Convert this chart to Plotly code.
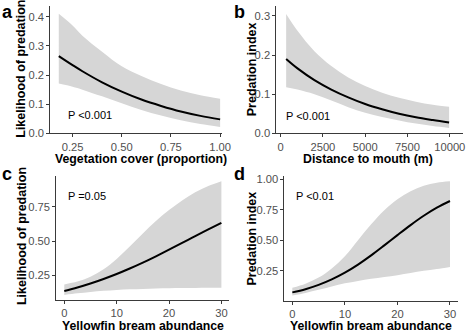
import plotly.graph_objects as go

W, H = 474, 333

# ---- Data ----
veg_x = [0.18, 0.25, 0.30, 0.40, 0.50, 0.60, 0.70, 0.80, 0.90, 1.00]
veg_fit = [0.265, 0.234, 0.213, 0.175, 0.143, 0.116, 0.094, 0.075, 0.060, 0.048]
veg_hi = [0.410, 0.370, 0.335, 0.280, 0.230, 0.197, 0.169, 0.147, 0.131, 0.119]
veg_lo = [0.171, 0.160, 0.150, 0.127, 0.103, 0.080, 0.061, 0.045, 0.032, 0.022]

dist_x = [330, 1000, 2000, 3000, 4000, 5000, 6000, 7000, 8000, 9000, 9960]
dist_fit = [0.190, 0.166, 0.136, 0.112, 0.092, 0.075, 0.0615, 0.050, 0.041, 0.034, 0.028]
dist_hi = [0.305, 0.262, 0.210, 0.172, 0.143, 0.121, 0.104, 0.091, 0.081, 0.073, 0.068]
dist_lo = [0.118, 0.112, 0.100, 0.084, 0.067, 0.053, 0.042, 0.033, 0.025, 0.019, 0.014]

bream_x = [0, 2.5, 5, 7.5, 10, 12.5, 15, 17.5, 20, 22.5, 25, 27.5, 30]
c_fit = [0.137, 0.162, 0.191, 0.224, 0.260, 0.300, 0.343, 0.389, 0.437, 0.486, 0.536, 0.584, 0.632]
c_hi = [0.184, 0.205, 0.240, 0.295, 0.370, 0.460, 0.555, 0.645, 0.725, 0.795, 0.855, 0.900, 0.935]
c_lo = [0.108, 0.120, 0.130, 0.138, 0.144, 0.149, 0.152, 0.155, 0.157, 0.158, 0.159, 0.160, 0.160]

d_fit = [0.074, 0.100, 0.135, 0.180, 0.235, 0.301, 0.376, 0.458, 0.542, 0.624, 0.700, 0.766, 0.821]
d_hi = [0.112, 0.145, 0.195, 0.270, 0.370, 0.500, 0.630, 0.745, 0.835, 0.900, 0.945, 0.970, 0.982]
d_lo = [0.048, 0.070, 0.095, 0.122, 0.148, 0.168, 0.185, 0.200, 0.215, 0.232, 0.250, 0.265, 0.282]

a_xticks = [0.25, 0.50, 0.75, 1.00]
a_xlabels = ["0.25", "0.50", "0.75", "1.00"]
a_yticks = [0.0, 0.1, 0.2, 0.3, 0.4]
a_ylabels = ["0.0", "0.1", "0.2", "0.3", "0.4"]
b_xticks = [0, 2500, 5000, 7500, 10000]
b_xlabels = ["0", "2500", "5000", "7500", "10000"]
b_yticks = [0.0, 0.1, 0.2, 0.3]
b_ylabels = ["0.0", "0.1", "0.2", "0.3"]
cd_xticks = [0, 10, 20, 30]
cd_xlabels = ["0", "10", "20", "30"]
c_yticks = [0.25, 0.50, 0.75]
c_ylabels = ["0.25", "0.50", "0.75"]
d_yticks = [0.25, 0.50, 0.75, 1.00]
d_ylabels = ["0.25", "0.50", "0.75", "1.00"]

panels = [
    dict(x=veg_x, fit=veg_fit, hi=veg_hi, lo=veg_lo, ax="", p="P <0.001", letter="a",
         xtitle="Vegetation cover (proportion)", ytitle="Likelihood of predation"),
    dict(x=dist_x, fit=dist_fit, hi=dist_hi, lo=dist_lo, ax="2", p="P <0.001", letter="b",
         xtitle="Distance to mouth (m)", ytitle="Predation index"),
    dict(x=bream_x, fit=c_fit, hi=c_hi, lo=c_lo, ax="3", p="P =0.05", letter="c",
         xtitle="Yellowfin bream abundance", ytitle="Likelihood of predation"),
    dict(x=bream_x, fit=d_fit, hi=d_hi, lo=d_lo, ax="4", p="P <0.01", letter="d",
         xtitle="Yellowfin bream abundance", ytitle="Predation index"),
]

def px(x):
    return x / W

def py(y):
    return 1 - y / H

RIBBON = "#d6d6d6"
AXC = "#3a3a3a"
TICKC = "#505050"
FONT = "Liberation Sans, Arial, sans-serif"

fig = go.Figure()
for p in panels:
    xa = "x" + p["ax"]
    ya = "y" + p["ax"]
    fig.add_trace(go.Scatter(x=p["x"], y=p["lo"], mode="lines", line=dict(width=0, shape="spline"),
                             xaxis=xa, yaxis=ya, showlegend=False, hoverinfo="skip"))
    fig.add_trace(go.Scatter(x=p["x"], y=p["hi"], mode="lines", line=dict(width=0, shape="spline"),
                             fill="tonexty", fillcolor=RIBBON,
                             xaxis=xa, yaxis=ya, showlegend=False, hoverinfo="skip"))
    fig.add_trace(go.Scatter(x=p["x"], y=p["fit"], mode="lines",
                             line=dict(color="black", width=2, shape="spline"),
                             xaxis=xa, yaxis=ya, showlegend=False))

# panel pixel boxes: (left, right, top, bottom)
boxes = {
    "": (51.3, 226.0, 3.0, 134.0),
    "2": (281.7, 472.0, 3.0, 134.0),
    "3": (57.3, 233.0, 178.0, 305.0),
    "4": (290.0, 467.0, 177.7, 306.0),
}
xranges = {"": [0.137, 1.008], "2": [-249, 10783], "3": [-1.54, 31.37], "4": [-1.49, 31.55]}
yranges = {"": [0.0, 0.437], "2": [0.0, 0.3256], "3": [0.0732, 0.971], "4": [0.0058, 1.026]}
xt = {"": (a_xticks, a_xlabels), "2": (b_xticks, b_xlabels), "3": (cd_xticks, cd_xlabels), "4": (cd_xticks, cd_xlabels)}
yt = {"": (a_yticks, a_ylabels), "2": (b_yticks, b_ylabels), "3": (c_yticks, c_ylabels), "4": (d_yticks, d_ylabels)}

common = dict(showline=True, linecolor=AXC, linewidth=1, ticks="outside", ticklen=3,
              tickcolor=AXC, tickwidth=1, showgrid=False, zeroline=False,
              tickfont=dict(family=FONT, size=11.2, color=TICKC), tickmode="array")

layout = dict(width=W, height=H, margin=dict(l=0, r=0, t=0, b=0),
              paper_bgcolor="white", plot_bgcolor="white", showlegend=False)
for k, (l, r, t, b) in boxes.items():
    layout["xaxis" + k] = dict(domain=[px(l), px(r)], range=xranges[k], anchor="y" + k,
                               tickvals=xt[k][0], ticktext=xt[k][1], ticklabelstandoff=0, **common)
    layout["yaxis" + k] = dict(domain=[py(b), py(t)], range=yranges[k], anchor="x" + k,
                               tickvals=yt[k][0], ticktext=yt[k][1], **common)
fig.update_layout(**layout)

# annotations: titles, letters, P values
ann = []
title_pos = {
    "": dict(xt=(143.5, 160), yt=(22, 68)),
    "2": dict(xt=(375, 160), yt=(256.5, 68.5)),
    "3": dict(xt=(146, 331.5), yt=(22, 240)),
    "4": dict(xt=(378, 331.5), yt=(256.5, 242.5)),
}
letter_pos = {"": (0, 9), "2": (236, 9), "3": (0, 176), "4": (236, 176)}
p_pos = {"": (67, 115), "2": (290, 116), "3": (67, 198), "4": (300, 198)}
for p in panels:
    k = p["ax"]
    tp = title_pos[k]
    ann.append(dict(text=p["xtitle"], x=px(tp["xt"][0]), y=py(tp["xt"][1]), xref="paper", yref="paper",
                    showarrow=False, xanchor="center", yanchor="middle", borderpad=0,
                    font=dict(family=FONT, size=12.3, color="black", weight="bold")))
    ann.append(dict(text=p["ytitle"], x=px(tp["yt"][0]), y=py(tp["yt"][1]), xref="paper", yref="paper",
                    showarrow=False, xanchor="center", yanchor="middle", textangle=-90, borderpad=0,
                    font=dict(family=FONT, size=12.5, color="black", weight="bold")))
    lp = letter_pos[k]
    ann.append(dict(text=p["letter"], x=px(lp[0]), y=py(lp[1]), xref="paper", yref="paper",
                    showarrow=False, xanchor="left", yanchor="middle",
                    font=dict(family=FONT, size=18, color="black", weight="bold")))
    pp = p_pos[k]
    ann.append(dict(text=p["p"], x=px(pp[0]), y=py(pp[1]), xref="paper", yref="paper",
                    showarrow=False, xanchor="left", yanchor="middle",
                    font=dict(family=FONT, size=11, color="black")))
fig.update_layout(annotations=ann)

fig.write_html("out.html")
